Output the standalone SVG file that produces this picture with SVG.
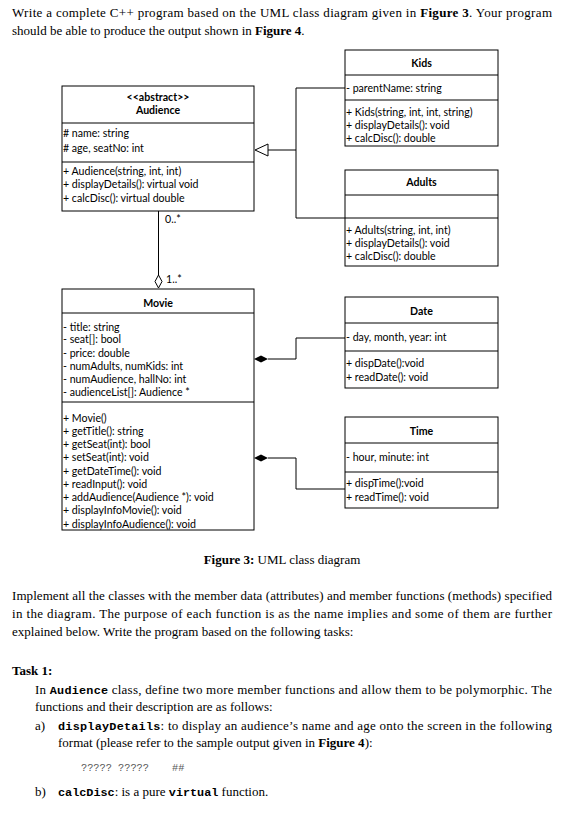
<svg xmlns="http://www.w3.org/2000/svg" width="574" height="824" viewBox="0 0 574 824">
<style>
.bx{fill:#fff;stroke:#000;stroke-width:1}
.ln{fill:none;stroke:#000;stroke-width:1}
.t{font-family:Lato,"Liberation Sans",sans-serif;font-size:10.6px;fill:#000}
.h{font-family:Lato,"Liberation Sans",sans-serif;font-size:10.6px;font-weight:bold;fill:#000;text-anchor:middle}
.p{font-family:"Liberation Serif","Times New Roman",serif;font-size:13px;fill:#000}
.b{font-weight:bold}
.m{font-family:"Liberation Mono","Courier New",monospace;font-weight:bold;font-size:11.8px}
.q{font-family:"Liberation Mono","Courier New",monospace;font-size:10.3px;fill:#555}
</style>
<rect width="574" height="824" fill="#fff"/>

<g id="intro">
<text class="p" x="12" y="17" textLength="540" lengthAdjust="spacing">Write a complete C++ program based on the UML class diagram given in <tspan class="b">Figure 3</tspan>. Your program</text>
<text class="p" x="12" y="35">should be able to produce the output shown in <tspan class="b">Figure 4</tspan>.</text>
</g>

<g id="connectors">
<polyline class="ln" points="345,88 296,88 296,218 345,218"/>
<line class="ln" x1="268" y1="150" x2="296" y2="150"/>
<polygon points="255,150 268,144 268,156" fill="#fff" stroke="#000" stroke-width="1"/>
<line class="ln" x1="158.5" y1="211" x2="158.5" y2="275"/>
<polygon points="158.5,275 162,281.5 158.5,288 155,281.5" fill="#fff" stroke="#000" stroke-width="1"/>
<text class="t" x="165" y="223">0..*</text>
<text class="t" x="166" y="283">1..*</text>
<polyline class="ln" points="268,359 296,359 296,338 345,338"/>
<polygon points="254,359 261,355.5 268,359 261,362.5" fill="#000"/>
<polyline class="ln" points="268,458 296,458 296,489 345,489"/>
<polygon points="254,458 261,454.5 268,458 261,461.5" fill="#000"/>
</g>

<g id="audience">
<rect class="bx" x="62" y="86" width="192" height="125"/>
<line class="ln" x1="62" y1="123" x2="254" y2="123"/>
<line class="ln" x1="62" y1="162" x2="254" y2="162"/>
<text class="h" x="158" y="100.5">&lt;&lt;abstract&gt;&gt;</text>
<text class="h" x="158" y="114">Audience</text>
<text class="t" x="63" y="136.5"># name: string</text>
<text class="t" x="63" y="151.5"># age, seatNo: int</text>
<text class="t" x="63" y="174.5">+ Audience(string, int, int)</text>
<text class="t" x="63" y="188">+ displayDetails(): virtual void</text>
<text class="t" x="63" y="201.5">+ calcDisc(): virtual double</text>
</g>

<g id="kids">
<rect class="bx" x="345" y="50" width="153" height="96"/>
<line class="ln" x1="345" y1="75" x2="498" y2="75"/>
<line class="ln" x1="345" y1="100" x2="498" y2="100"/>
<text class="h" x="421.5" y="66.5">Kids</text>
<text class="t" x="346" y="91.5">- parentName: string</text>
<text class="t" x="346" y="116">+ Kids(string, int, int, string)</text>
<text class="t" x="346" y="129">+ displayDetails(): void</text>
<text class="t" x="346" y="142">+ calcDisc(): double</text>
</g>

<g id="adults">
<rect class="bx" x="345" y="170" width="153" height="96"/>
<line class="ln" x1="345" y1="195" x2="498" y2="195"/>
<line class="ln" x1="345" y1="218" x2="498" y2="218"/>
<text class="h" x="421.5" y="186">Adults</text>
<text class="t" x="346" y="234">+ Adults(string, int, int)</text>
<text class="t" x="346" y="247">+ displayDetails(): void</text>
<text class="t" x="346" y="260">+ calcDisc(): double</text>
</g>

<g id="movie">
<rect class="bx" x="62" y="289" width="192" height="241"/>
<line class="ln" x1="62" y1="313" x2="254" y2="313"/>
<line class="ln" x1="62" y1="402" x2="254" y2="402"/>
<text class="h" x="158" y="306.5">Movie</text>
<text class="t" x="63" y="330.5">- title: string</text>
<text class="t" x="63" y="343">- seat[]: bool</text>
<text class="t" x="63" y="356.5">- price: double</text>
<text class="t" x="63" y="369.5">- numAdults, numKids: int</text>
<text class="t" x="63" y="382.5">- numAudience, hallNo: int</text>
<text class="t" x="63" y="395.5">- audienceList[]: Audience *</text>
<text class="t" x="63" y="421.5">+ Movie()</text>
<text class="t" x="63" y="434.5">+ getTitle(): string</text>
<text class="t" x="63" y="447.5">+ getSeat(int): bool</text>
<text class="t" x="63" y="461">+ setSeat(int): void</text>
<text class="t" x="63" y="474.5">+ getDateTime(): void</text>
<text class="t" x="63" y="487.5">+ readInput(): void</text>
<text class="t" x="63" y="500.5">+ addAudience(Audience *): void</text>
<text class="t" x="63" y="514">+ displayInfoMovie(): void</text>
<text class="t" x="63" y="527.5">+ displayInfoAudience(): void</text>
</g>

<g id="date">
<rect class="bx" x="345" y="297" width="153" height="91"/>
<line class="ln" x1="345" y1="323" x2="498" y2="323"/>
<line class="ln" x1="345" y1="351" x2="498" y2="351"/>
<text class="h" x="421.5" y="314.5">Date</text>
<text class="t" x="346" y="340.5">- day, month, year: int</text>
<text class="t" x="346" y="366.5">+ dispDate():void</text>
<text class="t" x="346" y="380.5">+ readDate(): void</text>
</g>

<g id="time">
<rect class="bx" x="345" y="417" width="153" height="91"/>
<line class="ln" x1="345" y1="443" x2="498" y2="443"/>
<line class="ln" x1="345" y1="472" x2="498" y2="472"/>
<text class="h" x="421.5" y="434.5">Time</text>
<text class="t" x="346" y="460.5">- hour, minute: int</text>
<text class="t" x="346" y="486.5">+ dispTime():void</text>
<text class="t" x="346" y="500.5">+ readTime(): void</text>
</g>

<g id="caption">
<text class="p" x="282" y="564" text-anchor="middle"><tspan class="b">Figure 3:</tspan> UML class diagram</text>
</g>

<g id="body">
<text class="p" x="12" y="600" textLength="540" lengthAdjust="spacing">Implement all the classes with the member data (attributes) and member functions (methods) specified</text>
<text class="p" x="12" y="618" textLength="540" lengthAdjust="spacing">in the diagram. The purpose of each function is as the name implies and some of them are further</text>
<text class="p" x="12" y="636">explained below. Write the program based on the following tasks:</text>

<text class="p b" x="12" y="675">Task 1:</text>
<text class="p" x="35" y="694" textLength="517" lengthAdjust="spacing">In <tspan class="m">Audience</tspan> class, define two more member functions and allow them to be polymorphic. The</text>
<text class="p" x="35" y="711">functions and their description are as follows:</text>
<text class="p" x="35" y="730">a)</text>
<text class="p" x="58" y="730" textLength="494" lengthAdjust="spacing"><tspan class="m">displayDetails</tspan>: to display an audience’s name and age onto the screen in the following</text>
<text class="p" x="58" y="747">format (please refer to the sample output given in <tspan class="b">Figure 4</tspan>):</text>
<text class="q" x="81" y="771">????? ?????</text>
<text class="q" x="172" y="771">##</text>
<text class="p" x="35" y="796">b)</text>
<text class="p" x="58" y="796"><tspan class="m">calcDisc</tspan>: is a pure <tspan class="m">virtual</tspan> function.</text>
</g>
</svg>
